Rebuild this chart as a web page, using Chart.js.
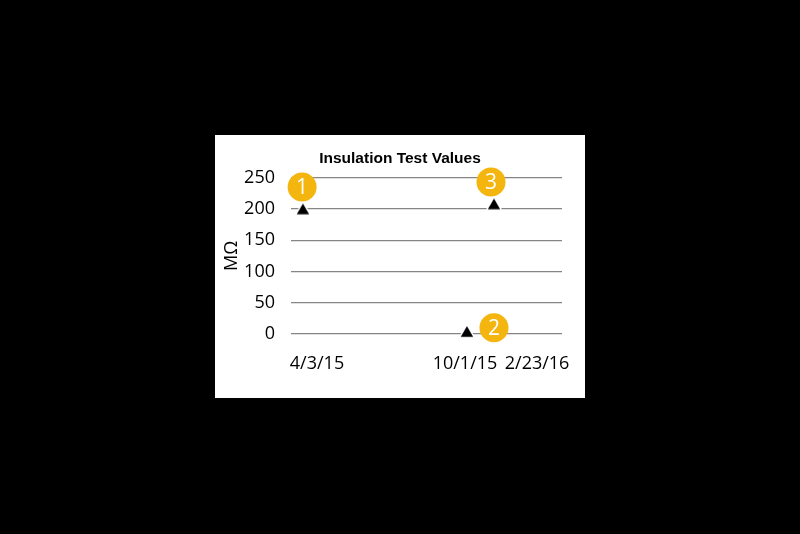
<!DOCTYPE html>
<html>
<head>
<meta charset="utf-8">
<script src="https://cdn.jsdelivr.net/npm/chart.js@4"></script>
<style>
    html, body { margin: 0; padding: 0; background: #000; }
    #box { position: absolute; left: 215px; top: 135px; width: 370px; height: 263px; background: #fff; }
</style>
</head>
<body>
<div id="box"><canvas id="insulationChart" width="370" height="263"></canvas></div>
<script>
'use strict';

// test dates, as printed on the axis, and where they sit along it (0..100)
const dateLabels = ['4/3/15', '10/1/15', '2/23/16'];
const labelPositions = [9.6, 64.2, 90.8];

// measured insulation resistance, MΩ
const testPositions = [4.4, 64.9, 74.9];
const testValues = [199, 3, 207];

// numbered callouts next to each test
const calloutNumbers = ['1', '2', '3'];
const calloutPositions = [4.1, 74.9, 73.8];
const calloutValues = [235, 10, 243];

const yTicks = [0, 50, 100, 150, 200, 250];

document.addEventListener('DOMContentLoaded', function () {
    const ctx = document.getElementById('insulationChart').getContext('2d');

    // black triangle with a white halo, centred on its point
    const marker = document.createElement('canvas');
    marker.width = 18;
    marker.height = 18;
    const m = marker.getContext('2d');
    m.beginPath();
    m.moveTo(9, 3);
    m.lineTo(15.2, 13.8);
    m.lineTo(2.8, 13.8);
    m.closePath();
    m.lineJoin = 'round';
    m.lineWidth = 3;
    m.strokeStyle = '#fff';
    m.stroke();
    m.fillStyle = '#000';
    m.fill();

    const calloutText = {
        id: 'calloutText',
        afterDatasetsDraw(chart) {
            const meta = chart.getDatasetMeta(1);
            const c = chart.ctx;
            c.save();
            c.fillStyle = '#fff';
            c.font = '21px "Open Sans"';
            c.textAlign = 'center';
            c.textBaseline = 'middle';
            meta.data.forEach((pt, i) => {
                c.fillText(calloutNumbers[i], pt.x, pt.y + 1);
            });
            c.restore();
        }
    };

    new Chart(ctx, {
        type: 'scatter',
        data: {
            datasets: [{
                label: 'Tests',
                data: testPositions.map((x, i) => ({ x: x, y: testValues[i] })),
                pointStyle: marker,
                clip: false
            }, {
                label: 'Callouts',
                data: calloutPositions.map((x, i) => ({ x: x, y: calloutValues[i] })),
                pointStyle: 'circle',
                pointRadius: 14.5,
                pointBackgroundColor: '#F5B50F',
                pointBorderWidth: 0,
                clip: false
            }]
        },
        options: {
            responsive: false,
            animation: false,
            layout: { padding: 0 },
            plugins: {
                legend: { display: false },
                tooltip: { enabled: false },
                title: {
                    display: true,
                    text: 'Insulation Test Values',
                    color: '#000',
                    font: { family: 'Liberation Sans', size: 15.5, weight: 'bold' },
                    padding: { top: 14, bottom: 10 }
                }
            },
            scales: {
                x: {
                    type: 'linear',
                    min: 0,
                    max: 100,
                    border: { display: false },
                    grid: { display: false, drawTicks: false },
                    afterBuildTicks: axis => { axis.ticks = labelPositions.map(v => ({ value: v })); },
                    afterFit: axis => {
                        axis.height = 64;
                        axis.paddingLeft = 0;
                        axis.paddingRight = 23;
                    },
                    ticks: {
                        autoSkip: false,
                        maxRotation: 0,
                        padding: 19,
                        color: '#000',
                        font: { family: 'Open Sans', size: 18 },
                        callback: (value, index) => dateLabels[index]
                    }
                },
                y: {
                    min: 0,
                    max: 250,
                    border: { display: false },
                    grid: { color: '#858585', lineWidth: 1.3, drawTicks: false },
                    afterBuildTicks: axis => { axis.ticks = yTicks.map(v => ({ value: v })); },
                    afterFit: axis => { axis.width = 76; },
                    ticks: {
                        padding: 16,
                        color: '#000',
                        font: { family: 'Open Sans', size: 18 }
                    },
                    title: {
                        display: true,
                        text: 'MΩ',
                        color: '#000',
                        font: { family: 'Open Sans', size: 18 },
                        padding: { top: 6, bottom: 0 }
                    }
                }
            }
        },
        plugins: [calloutText]
    });
});
</script>
</body>
</html>
